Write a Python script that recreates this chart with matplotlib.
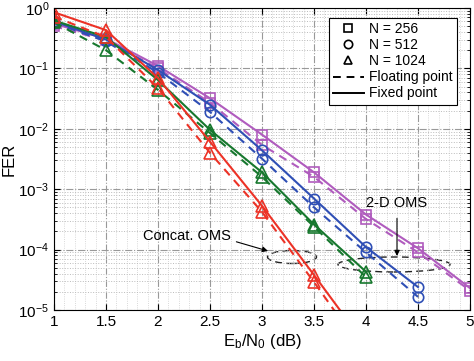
import matplotlib
matplotlib.use("Agg")
import matplotlib.pyplot as plt
from matplotlib.lines import Line2D
from matplotlib.patches import Ellipse
from matplotlib.ticker import MultipleLocator, LogLocator, NullFormatter

plt.rcParams['font.family'] = ['Liberation Sans', 'DejaVu Sans']
plt.rcParams['mathtext.default'] = 'regular'

# ---- data ----
ebn0 = [1, 1.5, 2, 2.5, 3, 3.5, 4, 4.5, 5]

n256_fixed = [0.55, 0.31, 0.11, 0.032, 0.008, 0.0019, 3.8e-4, 1.05e-4, 2.3e-5]
n256_float = [0.50, 0.29, 0.10, 0.027, 0.0054, 0.0016, 3.2e-4, 9.0e-5, 2.1e-5]

n512_fixed = [0.60, 0.30, 0.094, 0.025, 0.0044, 7.0e-4, 1.1e-4, 2.4e-5]
n512_float = [0.57, 0.28, 0.085, 0.019, 0.0032, 5.0e-4, 9.0e-5, 1.65e-5]

n1024_fixed = [0.62, 0.33, 0.064, 0.0096, 0.0019, 2.6e-4, 4.3e-5]
n1024_float = [0.58, 0.20, 0.044, 0.0085, 0.0016, 2.4e-4, 3.5e-5]

concat_fixed = [0.85, 0.43, 0.069, 0.0061, 5.3e-4, 3.8e-5, 2.6e-6]
concat_float = [0.72, 0.33, 0.047, 0.0040, 4.2e-4, 2.9e-5, 1.8e-6]

xticks = [1, 1.5, 2, 2.5, 3, 3.5, 4, 4.5, 5]
xtick_labels = ['1', '1.5', '2', '2.5', '3', '3.5', '4', '4.5', '5']

purple = '#b05cbe'
blue = '#2f4fb5'
green = '#17782e'
red = '#ec3226'

fig = plt.figure(figsize=(4.74, 3.61), dpi=100)
ax = fig.add_axes([54 / 474, 1 - 310 / 361, 416 / 474, 302 / 361])

series = [
    (n256_float, n256_fixed, purple, 's', 7),
    (n512_float, n512_fixed, blue, 'o', 7.5),
    (n1024_float, n1024_fixed, green, '^', 8),
    (concat_float, concat_fixed, red, '^', 8),
]
for flt, fix, c, m, ms in series:
    n = len(fix)
    ax.plot(ebn0[:n], flt, color=c, ls=(0, (4, 3)), lw=1.5, marker=m, ms=ms,
            mfc='none', mew=1.2)
    ax.plot(ebn0[:n], fix, color=c, ls='-', lw=1.5, marker=m, ms=ms,
            mfc='none', mew=1.2)

ax.set_yscale('log')
ax.set_xlim(1, 5)
ax.set_ylim(1e-5, 1)
ax.set_xticks(xticks)
ax.set_xticklabels(xtick_labels)
ax.xaxis.set_minor_locator(MultipleLocator(0.1))
ax.yaxis.set_major_locator(LogLocator(base=10, numticks=10))
ax.yaxis.set_minor_locator(LogLocator(base=10, subs=range(2, 10), numticks=20))
ax.yaxis.set_minor_formatter(NullFormatter())

ax.grid(True, which='major', color='#999999', ls='-.', lw=0.8)
ax.grid(True, which='minor', axis='y', color='#bbbbbb', ls=':', lw=0.7)
ax.grid(True, which='minor', axis='x', color='#cccccc', ls=':', lw=0.6)
ax.tick_params(which='both', direction='in', top=True, right=True, labelsize=11)
ax.tick_params(which='major', length=4)
ax.tick_params(which='minor', length=2)
ax.tick_params(axis='x', which='minor', length=0)

ax.set_xlabel('E$_b$/N$_0$ (dB)', fontsize=12, labelpad=2)
ax.set_ylabel('FER', fontsize=12, labelpad=1)

handles = [
    Line2D([], [], color='k', marker='s', ls='none', mfc='none', ms=6, mew=1.2),
    Line2D([], [], color='k', marker='o', ls='none', mfc='none', ms=6, mew=1.2),
    Line2D([], [], color='k', marker='^', ls='none', mfc='none', ms=6, mew=1.2),
    Line2D([], [], color='k', ls=(0, (4, 3)), lw=1.4),
    Line2D([], [], color='k', ls='-', lw=1.4),
]
labels = ['N = 256', 'N = 512', 'N = 1024', 'Floating point', 'Fixed point']
leg = ax.legend(handles, labels, loc='upper right',
                bbox_to_anchor=((457 - 54) / 416, (310 - 18) / 302),
                borderaxespad=0, fontsize=10, fancybox=False, framealpha=1,
                edgecolor='k', handlelength=2.2, handletextpad=0.4,
                labelspacing=0.15, borderpad=0.3)
leg.get_frame().set_linewidth(0.8)

# annotations
ax.add_patch(Ellipse(((292 - 54) / 416, (310 - 257) / 302), 49 / 416, 13 / 302,
                     transform=ax.transAxes, fill=False, ls=(0, (5, 3)),
                     color='#222222', lw=1.0))
ax.add_patch(Ellipse(((394 - 54) / 416, (310 - 264.5) / 302), 112 / 416, 15 / 302,
                     transform=ax.transAxes, fill=False, ls=(0, (5, 3)),
                     color='#222222', lw=1.0))
ax.annotate('2-D OMS', xy=((397 - 54) / 416, (310 - 256) / 302),
            xytext=((397 - 54) / 416, (310 - 203) / 302),
            xycoords='axes fraction', textcoords='axes fraction',
            ha='center', va='center', fontsize=10.5,
            arrowprops=dict(arrowstyle='-|>', color='k', lw=0.8,
                            shrinkA=4, shrinkB=0, mutation_scale=8))
ax.annotate('Concat. OMS', xy=((268 - 54) / 416, (310 - 251) / 302),
            xytext=((187 - 54) / 416, (310 - 236) / 302),
            xycoords='axes fraction', textcoords='axes fraction',
            ha='center', va='center', fontsize=10.5,
            arrowprops=dict(arrowstyle='-|>', color='k', lw=0.8,
                            shrinkA=2, shrinkB=0, mutation_scale=8,
                            relpos=(1.0, 0.2)))

fig.savefig('out.png', dpi=100)
